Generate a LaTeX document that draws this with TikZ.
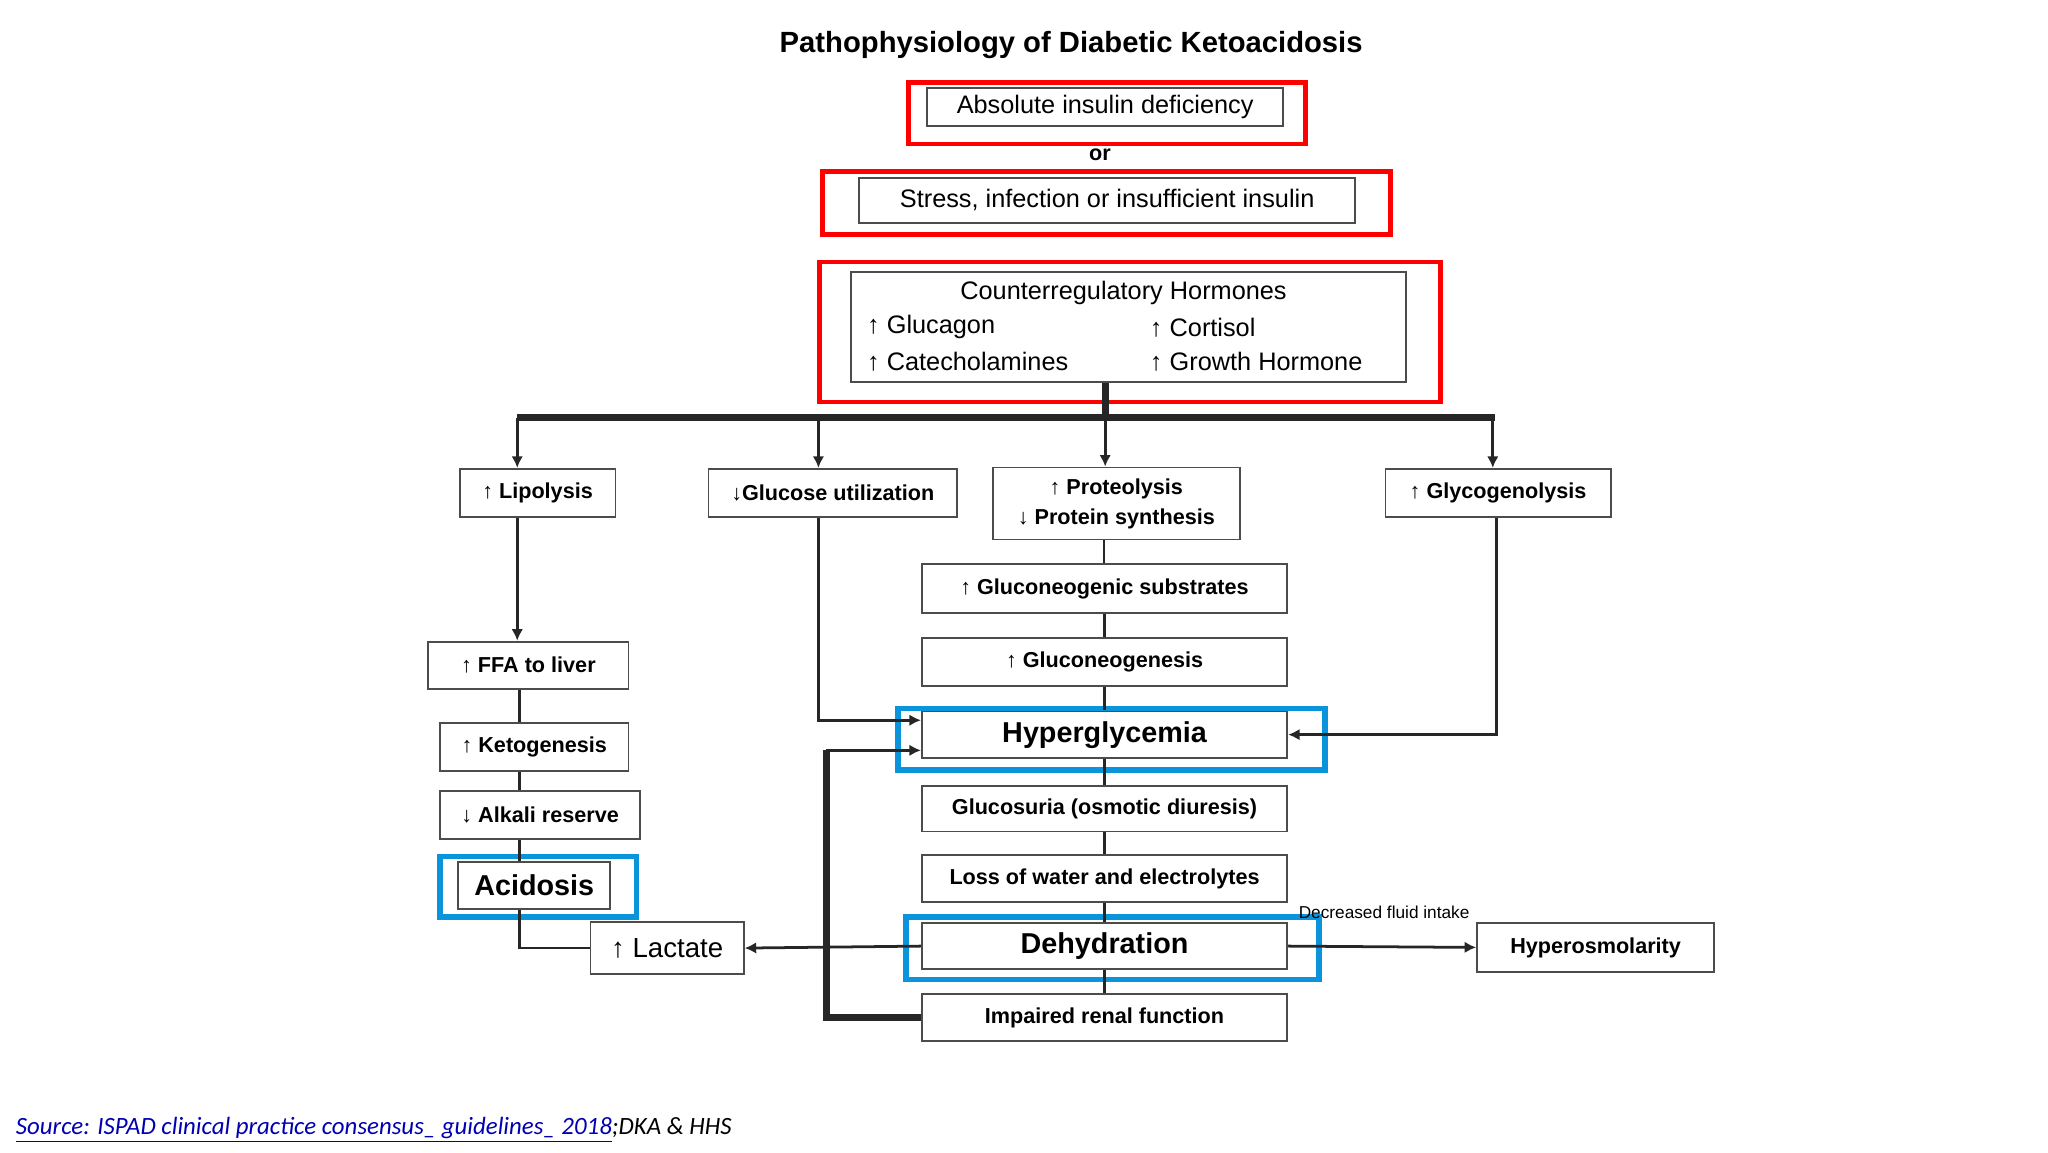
\documentclass[tikz,border=0pt]{standalone}
\usepackage{fontspec}
\setmainfont{Liberation Sans}
\newfontfamily\srcfont{Carlito}
\usetikzlibrary{arrows.meta,positioning}
\tikzset{
    box/.style={
           rectangle,
           draw=black!70, thick,
           inner sep=2pt,
           text centered,
           font=\bfseries\fontsize{9.4}{10}\selectfont,
           },
    plain/.style={box, font=\fontsize{11}{12}\selectfont},
    redframe/.style={draw=red, line width=2pt, inner sep=0pt},
    blueframe/.style={draw=cyan!80!blue, line width=2.5pt, inner sep=0pt},
    link/.style={draw=black!85, line width=1.2pt},
    thickline/.style={draw=black!85, line width=3pt},
    arr/.style={link, -{Latex[length=5pt,width=5pt]}},
}
\begin{document}
\begin{tikzpicture}[x=0.02cm,y=-0.02cm]
 \useasboundingbox (0,0) rectangle (1564,880);

 % title and top boxes
 \node[font=\bfseries\fontsize{12.7}{14}\selectfont] (title) at (818,34) {Pathophysiology of Diabetic Ketoacidosis};
 \node[plain, minimum width=272*0.02cm, minimum height=29*0.02cm] (ABS) at (844,82) {Absolute insulin deficiency};
 \node[redframe, minimum width=303*0.02cm, minimum height=47*0.02cm] (ABSr) at (845.5,86.5) {};
 \node[font=\bfseries\fontsize{9.4}{10}\selectfont] (or) at (840,118) {or};
 \node[plain, minimum width=379*0.02cm, minimum height=34*0.02cm] (STRESS) at (845.5,153) {Stress, infection or insufficient insulin};
 \node[redframe, minimum width=434*0.02cm, minimum height=48*0.02cm] (STRESSr) at (845,155) {};

 % counterregulatory hormones
 \node[plain, minimum width=424*0.02cm, minimum height=84*0.02cm] (HORM) at (862,250) {};
 \node[font=\fontsize{11}{12}\selectfont] (HT) at (858,224) {Counterregulatory Hormones};
 \node[font=\fontsize{11}{12}\selectfont, anchor=west] (GLU) at (656,250) {↑ Glucagon};
 \node[font=\fontsize{11}{12}\selectfont, anchor=west] (CAT) at (656,276) {↑ Catecholamines};
 \node[font=\fontsize{11}{12}\selectfont, anchor=west] (COR) at (872,250) {↑ Cortisol};
 \node[font=\fontsize{11}{12}\selectfont, anchor=west] (GH) at (872,276) {↑ Growth Hormone};
 \node[redframe, minimum width=474*0.02cm, minimum height=107*0.02cm] (HORMr) at (863,253.5) {};

 % second row
 \node[box, minimum width=119*0.02cm, minimum height=37*0.02cm] (LIP) at (410.5,376.5) {↑ Lipolysis};
 \node[box, minimum width=190*0.02cm, minimum height=37*0.02cm] (GUT) at (636,376.5) {↓Glucose utilization};
 \node[box, minimum width=189*0.02cm, minimum height=55*0.02cm, align=center] (PRO) at (852.5,384.5) {↑ Proteolysis\\[3pt]↓ Protein synthesis};
 \node[box, minimum width=172*0.02cm, minimum height=37*0.02cm] (GLY) at (1144,376.5) {↑ Glycogenolysis};

 % middle column
 \node[box, minimum width=279*0.02cm, minimum height=37*0.02cm] (SUB) at (843.5,449.5) {↑ Gluconeogenic substrates};
 \node[box, minimum width=279*0.02cm, minimum height=37*0.02cm] (GNG) at (843.5,505.5) {↑ Gluconeogenesis};
 \node[box, minimum width=279*0.02cm, minimum height=36*0.02cm, font=\bfseries\fontsize{12.5}{14}\selectfont] (HYP) at (843.5,561) {Hyperglycemia};
 \node[blueframe, minimum width=326*0.02cm, minimum height=47*0.02cm] (HYPb) at (849,564.5) {};
 \node[box, minimum width=279*0.02cm, minimum height=35*0.02cm] (GLS) at (843.5,617.5) {Glucosuria (osmotic diuresis)};
 \node[box, minimum width=279*0.02cm, minimum height=36*0.02cm] (LOSS) at (843.5,671) {Loss of water and electrolytes};
 \node[box, minimum width=279*0.02cm, minimum height=35*0.02cm, font=\bfseries\fontsize{12.5}{14}\selectfont] (DEH) at (843.5,722.5) {Dehydration};
 \node[blueframe, minimum width=315*0.02cm, minimum height=48*0.02cm] (DEHb) at (849.5,724) {};
 \node[box, minimum width=279*0.02cm, minimum height=36*0.02cm] (REN) at (843.5,777) {Impaired renal function};

 % left column
 \node[box, minimum width=153*0.02cm, minimum height=36*0.02cm] (FFA) at (403.5,508) {↑ FFA to liver};
 \node[box, minimum width=144*0.02cm, minimum height=37*0.02cm] (KET) at (408,570.5) {↑ Ketogenesis};
 \node[box, minimum width=153*0.02cm, minimum height=37*0.02cm] (ALK) at (412.5,622.5) {↓ Alkali reserve};
 \node[box, minimum width=116*0.02cm, minimum height=36*0.02cm, font=\bfseries\fontsize{12.5}{14}\selectfont] (ACI) at (408,676) {Acidosis};
 \node[blueframe, minimum width=150*0.02cm, minimum height=46*0.02cm] (ACIb) at (411,677) {};
 \node[plain, minimum width=117*0.02cm, minimum height=40*0.02cm, font=\fontsize{12}{14}\selectfont] (LAC) at (509.5,724) {↑ Lactate};

 % right side
 \node[box, minimum width=181*0.02cm, minimum height=37*0.02cm] (OSM) at (1218.5,723.5) {Hyperosmolarity};
 \node[font=\fontsize{7.5}{8}\selectfont] (FLUID) at (1057,697) {Decreased fluid intake};

 % connectors from the hormones
 \coordinate (SPLIT) at (844,319);
 \coordinate (BL) at (395,319);
 \coordinate (BR) at (1142,319);
 \draw[thickline] (HORM.south -| SPLIT) -- (SPLIT);
 \draw[thickline] (BL) -- (BR);
 \draw[arr] (BL) -- (LIP.north -| BL);
 \draw[arr] (625,319) -- (GUT.north -| 625,0);
 \draw[arr] (SPLIT) -- (PRO.north -| SPLIT);
 \draw[arr] (1140,319) -- (GLY.north -| 1140,0);

 % middle column
 \draw[link] (PRO.south -| 843,0) -- (SUB.north -| 843,0);
 \draw[link] (SUB) -- (GNG);
 \draw[link] (GNG) -- (HYP);
 \draw[link] (HYP) -- (GLS);
 \draw[link] (GLS) -- (LOSS);
 \draw[link] (LOSS) -- (DEH);
 \draw[link] (DEH) -- (REN);

 % left column
 \draw[arr] (LIP.south -| 395,0) -- (FFA.north -| 395,0);
 \draw[link] (FFA.south -| 397,0) -- (KET.north -| 397,0);
 \draw[link] (KET.south -| 397,0) -- (ALK.north -| 397,0);
 \draw[link] (ALK.south -| 397,0) -- (ACI.north -| 397,0);
 \draw[link] (ACI.south -| 397,0) |- (LAC.west);

 % into hyperglycemia
 \draw[arr] (GUT.south -| 625,0) |- (HYP.west |- 0,550);
 \draw[arr] (GLY.south -| 1143,0) |- (HYP.east);
 \draw[thickline] (REN.west) -| (631,573);
 \draw[arr] (631,573) -- (HYP.west |- 0,573);

 % out of dehydration
 \draw[arr] (DEH.west) -- (LAC.east);
 \draw[arr] (DEH.east) -- (OSM.west);

 % source line
 \node[anchor=west, font=\srcfont\itshape\fontsize{10.8}{12}\selectfont] (SRC) at (6,863)
  {\textcolor{blue!70!black}{\underline{Source: ISPAD clinical practice consensus\_ guidelines\_ 2018}};DKA \& HHS};
\end{tikzpicture}
\end{document}
